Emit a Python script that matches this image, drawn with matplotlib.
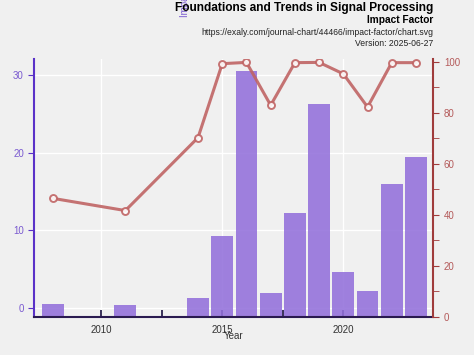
import matplotlib
matplotlib.use("Agg")
import matplotlib.pyplot as plt

plt.rcParams['font.family'] = ['Liberation Sans', 'DejaVu Sans']

# Data
years = [2008, 2011, 2014, 2015, 2016, 2017, 2018, 2019, 2020, 2021, 2022, 2023]
impact = [0.51, 0.39, 1.29, 9.25, 30.5, 2.0, 12.25, 26.2, 4.63, 2.27, 15.98, 19.49]
percentile = [46.4, 41.6, 70.2, 99.2, 99.7, 82.9, 99.6, 99.7, 95.2, 82.2, 99.6, 99.6]

bg = '#f0f0f0'
bar_color = '#9370db'
line_color = '#c06464'
left_color = '#5a32c8'
right_color = '#a03c3c'

fig = plt.figure(figsize=(4.74, 3.55), dpi=100, facecolor=bg)
ax = fig.add_axes([0.0724, 0.108, 0.842, 0.726])
ax.set_facecolor(bg)

ax.bar(years, [v + 1.08 for v in impact], bottom=-1.08, width=0.9,
       color=bar_color, alpha=0.88, zorder=3)
ax.set_xlim(2007.24, 2023.72)
ax.set_ylim(-1.08, 32.05)
ax.set_xticks([2010, 2015, 2020])
ax.set_xticks([2012.5, 2017.5], minor=True)
ax.set_yticks([0, 10, 20, 30])
ax.grid(True, color='white', linewidth=1, zorder=0)
ax.set_axisbelow(True)

for s in ['top', 'right']:
    ax.spines[s].set_visible(False)
ax.spines['left'].set_color(left_color)
ax.spines['left'].set_linewidth(1.5)
ax.spines['bottom'].set_color('#2a1a50')
ax.spines['bottom'].set_linewidth(1.5)
ax.spines['bottom'].set_zorder(4)
ax.tick_params(axis='y', colors=left_color, labelcolor='#7a5ad0', labelsize=7, length=4)
ax.tick_params(axis='x', which='both', direction='in', colors='#1a1040',
               labelcolor='#333333', labelsize=7, length=5, width=1.2, pad=6)
ax.set_xlabel('Year', fontsize=7, color='#333333', labelpad=-3)

ax2 = ax.twinx()
ax2.plot(years, percentile, color=line_color, linewidth=2.2, alpha=0.9,
         marker='o', markersize=5, markerfacecolor='white',
         markeredgecolor=line_color, markeredgewidth=1.4, zorder=3)
ax2.set_ylim(0, 101.06)
ax2.set_yticks([0, 20, 40, 60, 80, 100])
ax2.set_yticks([10, 30, 50, 70, 90], minor=True)
for s in ['top', 'left', 'bottom']:
    ax2.spines[s].set_visible(False)
ax2.spines['right'].set_color(right_color)
ax2.spines['right'].set_linewidth(1.5)
ax2.tick_params(axis='y', which='both', colors=right_color, labelcolor='#b45a5a',
                labelsize=7, length=4)

fig.text(185 / 474, 1 - 17 / 355, 'Impact Factor', rotation=90, ha='center',
         va='bottom', fontsize=7, color='#7a5ad0')
fig.text(433 / 474, 1 - 8.5 / 355, 'Foundations and Trends in Signal Processing',
         ha='right', va='center', fontsize=8.6, fontweight='bold', color='black')
fig.text(433 / 474, 1 - 20 / 355, 'Impact Factor', ha='right', va='center',
         fontsize=7.3, fontweight='bold', color='black')
fig.text(433 / 474, 1 - 32.5 / 355, 'https://exaly.com/journal-chart/44466/impact-factor/chart.svg',
         ha='right', va='center', fontsize=6.2, color='#222222')
fig.text(433 / 474, 1 - 44 / 355, 'Version: 2025-06-27', ha='right', va='center',
         fontsize=6.2, color='#222222')

fig.savefig('out.png', dpi=100, facecolor=bg)
